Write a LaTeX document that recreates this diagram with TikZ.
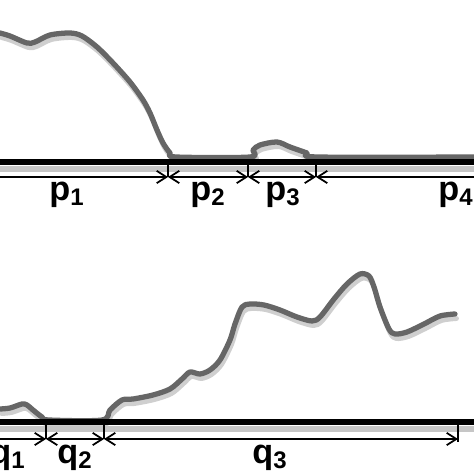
\documentclass[tikz,border=0pt]{standalone}
\usepackage{fontspec}
\setmainfont{Liberation Sans}
\usetikzlibrary{arrows.meta}

\tikzset{
  baseline bar/.style={line width=3.3pt,black},
  grey band/.style={line width=3.6pt,gray!45},
  profile/.style={line width=3pt,black!60,line cap=round,line join=round},
  profile shadow/.style={line width=2.8pt,gray!38,line cap=round,line join=round,shift={(1.5,4.5)}},
  tick/.style={line width=1pt,black},
  barb/.tip={Straight Barb[length=5.5pt,width=7pt,line width=1pt]},
  span/.style={line width=1pt,black,barb-barb},
  span end/.style={line width=1pt,black,-barb},
  span start/.style={line width=1pt,black,barb-},
  seglabel/.style={anchor=base,inner sep=0pt,font=\bfseries\fontsize{19.5}{22}\selectfont}
}

\begin{document}
\begin{tikzpicture}[x=0.02cm,y=-0.02cm]
  \useasboundingbox (0,0) rectangle (474,474);

  % upper profile with its dimension line
  \draw[profile shadow] plot[smooth,tension=0.5] coordinates {(0,33) (10,36) (27,43) (35,42) (50,35) (70,33) (82,36) (97,47) (113,63) (130,82) (143,100) (150,113) (157,130) (163,143) (170,153) (176,157) (250,157) (253,150) (260,145) (277,142) (290,147) (307,153) (318,157) (474,157)};
  \draw[profile] plot[smooth,tension=0.5] coordinates {(0,33) (10,36) (27,43) (35,42) (50,35) (70,33) (82,36) (97,47) (113,63) (130,82) (143,100) (150,113) (157,130) (163,143) (170,153) (176,157) (250,157) (253,150) (260,145) (277,142) (290,147) (307,153) (318,157) (474,157)};
  \draw[grey band] (0,169) -- (474,169);
  \draw[baseline bar] (0,162) -- (474,162);
  \coordinate (pa) at (0,177);
  \coordinate (pe) at (474,177);
  \foreach \n/\x in {pb/168,pc/248,pd/316} {
    \coordinate (\n) at (\x,177);
    \coordinate (\n top) at (\x,162);
    \draw[tick] (\n top) -- (\n);
  }
  \draw[span end] (pa) -- (pb);
  \draw[span] (pb) -- (pc);
  \draw[span] (pc) -- (pd);
  \draw[span start] (pd) -- (pe);
  \node[seglabel] (p1) at (67,200) {p\textsubscript{1}};
  \node[seglabel] (p2) at (208,200) {p\textsubscript{2}};
  \node[seglabel] (p3) at (283,200) {p\textsubscript{3}};
  \node[seglabel] (p4) at (456,200) {p\textsubscript{4}};

  % lower profile with its dimension line
  \draw[profile shadow] plot[smooth,tension=0.5] coordinates {(0,409) (10,408) (22,404) (27,405) (33,410) (42,417) (49,420) (102,420) (110,410) (122,400) (133,399) (153,395) (170,389) (182,379) (190,372) (200,374) (210,370) (220,360) (230,340) (235,324) (242,307) (250,304) (264,305) (280,310) (297,317) (312,321) (320,317) (334,299) (347,284) (360,274) (369,276) (374,287) (380,307) (389,329) (395,334) (407,332) (424,324) (440,316) (455,314)};
  \draw[profile] plot[smooth,tension=0.5] coordinates {(0,409) (10,408) (22,404) (27,405) (33,410) (42,417) (49,420) (102,420) (110,410) (122,400) (133,399) (153,395) (170,389) (182,379) (190,372) (200,374) (210,370) (220,360) (230,340) (235,324) (242,307) (250,304) (264,305) (280,310) (297,317) (312,321) (320,317) (334,299) (347,284) (360,274) (369,276) (374,287) (380,307) (389,329) (395,334) (407,332) (424,324) (440,316) (455,314)};
  \draw[grey band] (0,429) -- (474,429);
  \draw[baseline bar] (0,422) -- (474,422);
  \coordinate (qa) at (0,439);
  \foreach \n/\x in {qb/46,qc/104,qd/458} {
    \coordinate (\n) at (\x,439);
    \coordinate (\n top) at (\x,422);
    \draw[tick] (\n top) -- (\n);
  }
  \coordinate (qd low) at (458,442);
  \draw[tick] (qd) -- (qd low);
  \draw[span end] (qa) -- (qb);
  \draw[span] (qb) -- (qc);
  \draw[span] (qc) -- (qd);
  \node[seglabel] (q1) at (8,463) {q\textsubscript{1}};
  \node[seglabel] (q2) at (75,463) {q\textsubscript{2}};
  \node[seglabel] (q3) at (270,463) {q\textsubscript{3}};
\end{tikzpicture}
\end{document}
